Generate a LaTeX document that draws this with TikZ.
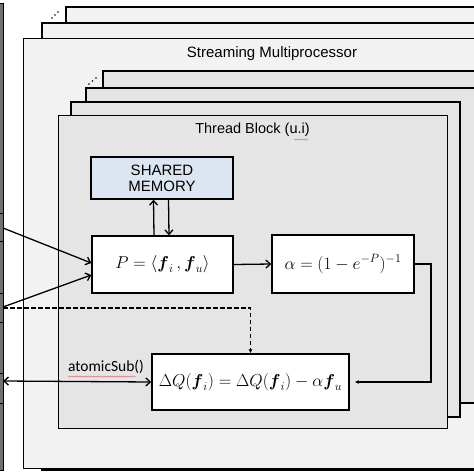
\documentclass[tikz,border=0pt]{standalone}
\usepackage{amsmath}
\usepackage{fontspec}
\newfontfamily\arialf{Liberation Sans}
\newfontfamily\calibrif{Carlito}
\usetikzlibrary{arrows.meta,calc,decorations.pathmorphing}
\definecolor{smfill}{HTML}{F2F2F2}
\definecolor{tbfill}{HTML}{E5E5E5}
\definecolor{shmfill}{HTML}{DCE6F2}
\definecolor{memfill}{HTML}{707070}
\definecolor{squigred}{HTML}{E06060}
\tikzset{
  layer/.style={draw=black,line width=1.4pt},
  smlayer/.style={layer,fill=smfill},
  tblayer/.style={layer,fill=tbfill},
  opbox/.style={draw=black,line width=1.4pt,fill=white,inner sep=0pt,font=\fontsize{16.5}{18}\selectfont},
  conn/.style={line width=1.3pt,-{Straight Barb[length=4.5pt,width=8pt,line width=1.3pt]}},
  dconn/.style={line width=1.3pt,{Straight Barb[length=4.5pt,width=8pt,line width=1.3pt]}-{Straight Barb[length=4.5pt,width=8pt,line width=1.3pt]}},
  fconn/.style={line width=1.3pt,-{Latex[length=4pt,width=4pt]}},
  dashconn/.style={line width=1.3pt,dashed,dash pattern=on 4.5pt off 2.5pt,-{Latex[length=4pt,width=4pt]}},
  squiggle/.style={squigred,line width=0.35pt,decorate,decoration={snake,amplitude=0.6pt,segment length=2.2pt}},
  dotmark/.style={fill=black,draw=none}
}
\begin{document}
\begin{tikzpicture}[x=1pt,y=-1pt]
\clip (0,0) rectangle (474,474);
\fill[white] (0,0) rectangle (474,474);
% global memory column
\node[draw=black,line width=1pt,fill=memfill,minimum width=10pt,minimum height=467pt,inner sep=0pt] (gmem) at (-2,236.5) {};
\foreach \yy in {213,241,293,322,373,403} \draw[line width=0.8pt] (-8,\yy) -- (3,\yy);
% streaming multiprocessor stack
\draw[smlayer] (66,7) rectangle (490,470);
\draw[smlayer] (42,23) rectangle (490,470);
\node[smlayer,anchor=north west,minimum width=460pt,minimum height=430pt,inner sep=0pt] (sm) at (23,38) {};
\foreach \p in {(52,18),(55,15),(58,12)} \fill[dotmark] \p circle (0.9);
\node[font=\arialf\fontsize{15}{17}\selectfont] (smlabel) at (272,54) {Streaming Multiprocessor};
% thread block stack
\draw[tblayer] (103,71) rectangle (490,390);
\draw[tblayer] (86,88) rectangle (490,403);
\draw[tblayer] (71,102) rectangle (460,417);
\node[tblayer,anchor=north west,minimum width=389pt,minimum height=313pt,inner sep=0pt] (tb) at (58,115) {};
\foreach \p in {(89,84),(92.5,81),(96,78)} \fill[dotmark] \p circle (0.9);
\node[font=\arialf\fontsize{14.5}{17}\selectfont] (tblabel) at (252.5,130) {Thread Block (u.i)};
\draw[squiggle] (294,139.5) -- (308,139.5);
% boxes
\node[draw=black,line width=1.4pt,fill=shmfill,minimum width=142pt,minimum height=42pt,inner sep=0pt,align=center,font=\arialf\fontsize{15}{16}\selectfont] (shm) at (162,178) {SHARED\\MEMORY};
\node[opbox,minimum width=141pt,minimum height=57pt] (pbox) at (162.5,264.5) {$P = \langle \boldsymbol{f}_i\,, \boldsymbol{f}_u \rangle$};
\node[opbox,minimum width=142pt,minimum height=58pt] (abox) at (343,264) {$\alpha = (1 - e^{-P})^{-1}$};
\node[opbox,minimum width=197pt,minimum height=56pt] (dq) at (250.5,382) {$\Delta Q(\boldsymbol{f}_i) = \Delta Q(\boldsymbol{f}_i) - \alpha\boldsymbol{f}_u$};
% connector endpoints on the memory column
\coordinate (gin1) at (3,228);
\coordinate (gin2) at (3,307);
\coordinate (gdash) at (3,308);
\coordinate (gatom) at (3,381);
\coordinate (bend) at (431,264);
% connectors
\draw[conn] (gin1) -- ($(pbox.west)+(0,-1.5)$);
\draw[conn] (gin2) -- ($(pbox.west)+(0,10.5)$);
\draw[conn] ($(pbox.north)+(-8.5,0)$) -- ($(shm.south)+(-8.5,0)$);
\draw[conn] ($(shm.south)+(6.5,0)$) -- ($(pbox.north)+(6.5,0)$);
\draw[conn] (pbox.east) -- (abox.west);
\draw[fconn,shorten >=5pt] (abox.east) -- (bend) |- (dq.east);
\draw[dashconn] (gdash) -| (dq.north);
\draw[dconn] (gatom) -- (dq.west);
\node[font=\calibrif\fontsize{15.5}{17}\selectfont] (atomlabel) at (106,367) {atomicSub()};
\draw[squiggle] (68,376.5) -- (136,376.5);
\end{tikzpicture}
\end{document}
